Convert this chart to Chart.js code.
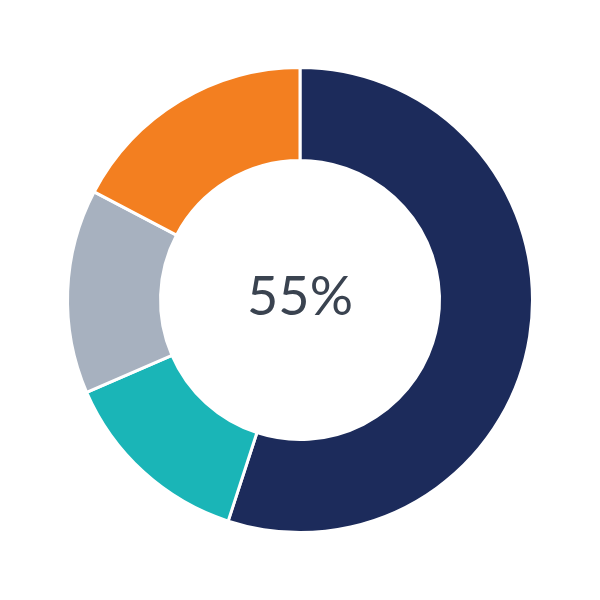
<!DOCTYPE html>
<html>
<head>
<meta charset="utf-8">
<script src="https://cdn.jsdelivr.net/npm/chart.js@4"></script>
<style>
  html, body { margin: 0; padding: 0; background: #fff; }
  .wrap { position: relative; width: 600px; height: 600px; }
  .center-label {
    position: absolute; left: 0; top: -6px; width: 600px; height: 600px;
    display: flex; align-items: center; justify-content: center;
    font-family: Lato, "Open Sans", sans-serif; font-size: 54px; color: #3a4350;
    pointer-events: none;
  }
</style>
</head>
<body>
<div class="wrap">
  <canvas id="myChart" width="600" height="600"></canvas>
  <div class="center-label" id="centerLabel"></div>
</div>
<script>
let labels = ["A", "B", "C", "D"]
let values = [55, 13.5, 14.2, 17.3]
let colors = ["#1c2b5b", "#1ab5b7", "#a7b1bf", "#f37f20"]
let centerText = "55%"

document.getElementById("centerLabel").textContent = centerText

let ctx = document.getElementById("myChart").getContext('2d');
new Chart(ctx, {
    type: 'doughnut',
    data: {
        labels: labels,
        datasets: [
            {
              backgroundColor: colors,
              borderColor: "#ffffff",
              borderWidth: 3,
              hoverBorderWidth: 3,
              data: values
            }
          ]
        },
    options: {
        responsive: false,
        animation: false,
        cutout: '60%',
        layout: { padding: 66 },
        plugins: {
            legend: { display: false },
            tooltip: { enabled: false }
          }
        }
    });
</script>
</body>
</html>
